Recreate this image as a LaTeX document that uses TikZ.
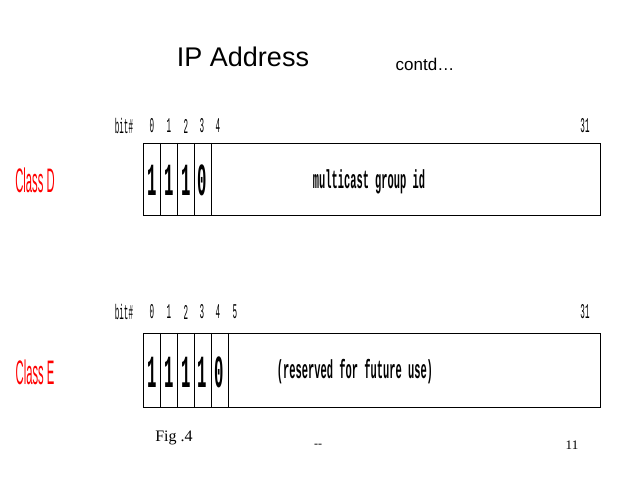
\documentclass[tikz,border=0pt]{standalone}
\usepackage{fontspec}
\setmainfont{Liberation Serif}
\setsansfont{Liberation Sans}
\setmonofont{Liberation Mono}
\begin{document}
\begin{tikzpicture}[x=1pt,y=-1pt,
  cond/.style={font=\ttfamily\fontsize{#1}{#1}\selectfont,transform shape,inner sep=0pt},
  bitlbl/.style={cond=21,xscale=0.36},
  digit/.style={cond=46,font=\ttfamily\bfseries\fontsize{46}{46}\selectfont,xscale=0.34},
  fld/.style={cond=26,font=\ttfamily\bfseries\fontsize{26}{26}\selectfont,xscale=0.4},
  cls/.style={font=\sffamily\fontsize{34}{34}\selectfont,xscale=0.33,transform shape,inner sep=0pt,text=red},
  field/.style={draw=black,line width=0.8pt}]
\useasboundingbox (0,0) rectangle (638,478);
\node[font=\sffamily\fontsize{27}{27}\selectfont] (title) at (243,57) {IP Address};
\node[font=\sffamily\fontsize{17}{17}\selectfont] (contd) at (425,64) {contd…};
% Class D
\node[cls] (cd) at (35,180) {Class D};
\node[bitlbl] (bd) at (124,126) {bit\#};
\foreach \b/\x in {0/152,1/169,2/186,3/202,4/218,31/585}{\node[bitlbl] (d\b) at (\x,126) {\b};}
\draw[field] (143,143) rectangle (600,215);
\foreach \x in {160,177,194,211}{\draw[field] (\x,143) -- (\x,215);}
\foreach \d/\x in {1/152,1/169,1/186,0/202}{\node[digit] at (\x,180) {\d};}
\node[fld] (mg) at (369,182) {multicast group id};
% Class E
\node[cls] (ce) at (35,372) {Class E};
\node[bitlbl] (be) at (124,312) {bit\#};
\foreach \b/\x in {0/152,1/169,2/186,3/202,4/218,5/235,31/585}{\node[bitlbl] (e\b) at (\x,312) {\b};}
\draw[field] (143,333) rectangle (600,407);
\foreach \x in {160,177,194,211,228}{\draw[field] (\x,333) -- (\x,407);}
\foreach \d/\x in {1/152,1/169,1/186,1/202,0/219}{\node[digit] at (\x,372) {\d};}
\node[fld] (rf) at (355,372) {(reserved for future use)};
% footer
\node[font=\fontsize{16}{16}\selectfont] (fig) at (174,438) {Fig .4};
\node[font=\fontsize{12}{12}\selectfont] (dash) at (318,446) {-{}-};
\node[font=\fontsize{13}{13}\selectfont] (pg) at (572,445) {11};
\end{tikzpicture}
\end{document}
